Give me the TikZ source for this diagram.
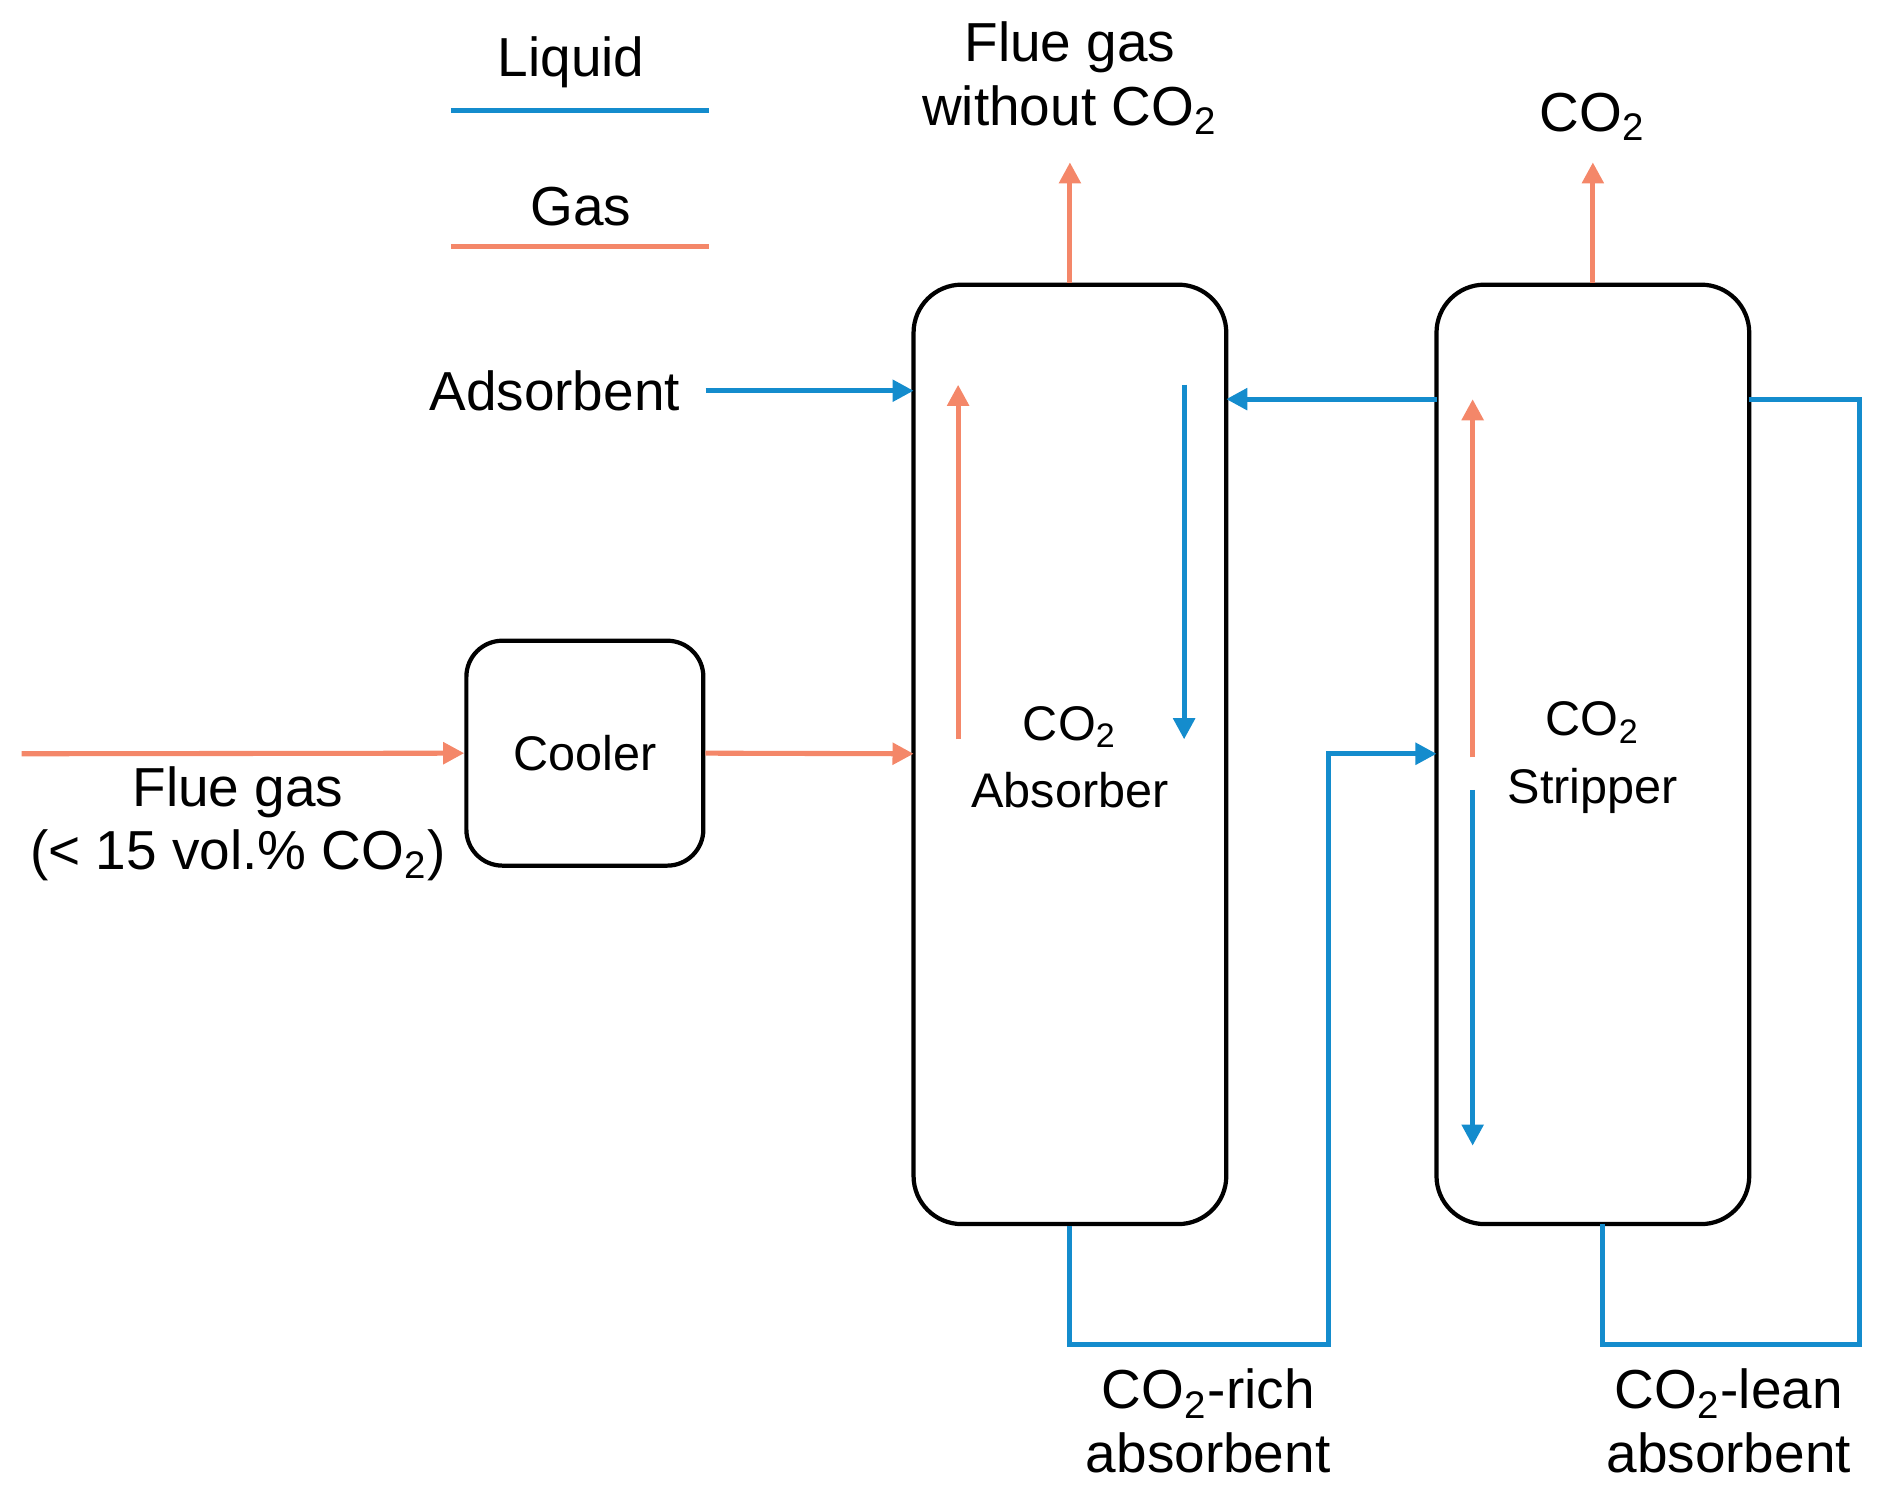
\documentclass[tikz,border=0pt]{standalone}
\usepackage{fontspec}
\setmainfont{Liberation Sans}
\usetikzlibrary{arrows.meta}
\definecolor{liq}{RGB}{20,140,205}
\definecolor{gas}{RGB}{244,135,105}
\begin{document}
\begin{tikzpicture}[x=0.01cm,y=-0.01cm,
  every node/.style={font=\fontsize{13}{15}\selectfont,align=center},
  small/.style={font=\fontsize{11.5}{14}\selectfont},
  unit/.style={draw,line width=1pt,rounded corners=0.4cm,inner sep=0pt},
  l/.style={liq,line width=1.2pt},
  g/.style={gas,line width=1.2pt},
  a/.style={-{Triangle[length=5pt,width=5pt]}}]
\useasboundingbox (0,0) rectangle (1568,1250);
% legend
\node (tliq) at (475,52) {Liquid};
\draw[l] (375,92) -- (590,92);
\node (tgas) at (483,172) {Gas};
\draw[g] (375,205) -- (590,205);
% units
\node[unit,minimum width=2.6cm,minimum height=7.81cm] (abs) at (890,627.5) {};
\node[unit,minimum width=2.6cm,minimum height=7.81cm] (str) at (1325,627.5) {};
\node[unit,small,rounded corners=0.3cm,minimum width=1.97cm,minimum height=1.87cm] (cool) at (486.5,626.5) {Cooler};
\node[small] (absl) at (890,630) {CO\textsubscript{2}\\[2pt]Absorber};
\node[small] (strl) at (1325,630) {CO\textsubscript{2}\\[2pt]Stripper};
% flue gas in
\node (fg) at (198,685) {Flue gas\\(< 15 vol.\% CO\textsubscript{2})};
\coordinate (fgin) at (18,627);
\draw[g,a] (fgin) -- (cool.west);
\draw[g,a] (cool.east) -- (760,627);
% adsorbent
\node[anchor=east] (ads) at (578,325) {Adsorbent};
\draw[l,a] (ads.east) ++(9,0) -- (760,325);
% absorber inside
\draw[g,a] (797,615) -- (797,320);
\draw[l,a] (985,320) -- (985,615);
% outputs top
\node (fgout) at (890,65) {Flue gas\\without CO\textsubscript{2}};
\draw[g,a] (abs.north) -- (890,135);
\node (co2) at (1325,97) {CO\textsubscript{2}};
\draw[g,a] (str.north) -- (1325,135);
% stripper to absorber
\draw[l,a] (1195,332) -- (1020,332);
% stripper inside
\draw[g,a] (1225,630) -- (1225,332);
\draw[l,a] (1225,657) -- (1225,953);
% rich loop
\draw[l,a] (abs.south) -- (890,1118) -- (1105,1118) -- (1105,627) -- (1195,627);
\node (rich) at (1005,1182) {CO\textsubscript{2}-rich\\absorbent};
% lean loop
\draw[l] (1333,1018) -- (1333,1118) -- (1547,1118) -- (1547,332) -- (1455,332);
\node (lean) at (1438,1182) {CO\textsubscript{2}-lean\\absorbent};
\end{tikzpicture}
\end{document}
